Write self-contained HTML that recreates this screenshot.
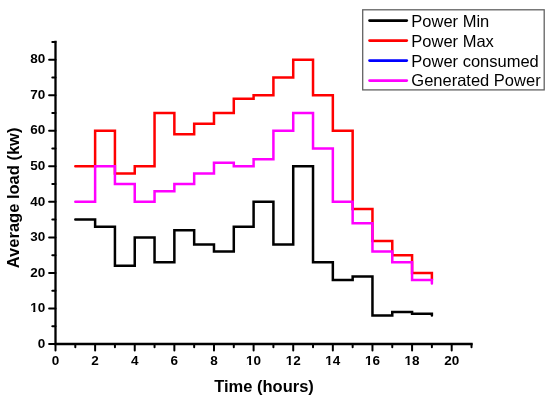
<!DOCTYPE html>
<html><head><meta charset="utf-8"><style>
html,body{margin:0;padding:0;background:#fff;}
body{width:550px;height:402px;overflow:hidden;}
svg{display:block;}
text{font-family:"Liberation Sans",Arial,sans-serif;}
</style></head><body>
<svg width="550" height="402" viewBox="0 0 550 402">
<rect width="550" height="402" fill="#fff"/>
<g fill="none" stroke-width="2.5" stroke-linejoin="miter" stroke-linecap="round">
<path d="M75.31 219.61 H95.12 V226.72 H114.93 V265.81 H134.74 V237.38 H154.55 V262.26 H174.36 V230.27 H194.17 V244.49 H213.98 V251.60 H233.79 V226.72 H253.60 V201.84 H273.41 V244.49 H293.22 V166.30 H313.03 V262.26 H332.84 V280.03 H352.65 V276.47 H372.46 V315.57 H392.27 V312.01 H412.08 V313.79 H431.89 V315.57" stroke="#000" />
<path d="M75.31 166.30 H95.12 V130.76 H114.93 V173.41 H134.74 V166.30 H154.55 V112.99 H174.36 V134.31 H194.17 V123.65 H213.98 V112.99 H233.79 V98.77 H253.60 V95.22 H273.41 V77.45 H293.22 V59.68 H313.03 V95.22 H332.84 V130.76 H352.65 V208.95 H372.46 V240.93 H392.27 V255.15 H412.08 V272.92 H431.89 V280.03" stroke="#f00" />
<path d="M75.31 201.84 H95.12 V166.30 H114.93 V184.07 H134.74 V201.84 H154.55 V191.18 H174.36 V184.07 H194.17 V173.41 H213.98 V162.75 H233.79 V166.30 H253.60 V159.19 H273.41 V130.76 H293.22 V112.99 H313.03 V148.53 H332.84 V201.84 H352.65 V223.16 H372.46 V251.60 H392.27 V262.26 H412.08 V280.03 H431.89 V283.58" stroke="#f0f" />
</g>
<path d="M49.10 344.00 h6.40 M52.30 326.23 h3.20 M49.10 308.46 h6.40 M52.30 290.69 h3.20 M49.10 272.92 h6.40 M52.30 255.15 h3.20 M49.10 237.38 h6.40 M52.30 219.61 h3.20 M49.10 201.84 h6.40 M52.30 184.07 h3.20 M49.10 166.30 h6.40 M52.30 148.53 h3.20 M49.10 130.76 h6.40 M52.30 112.99 h3.20 M49.10 95.22 h6.40 M52.30 77.45 h3.20 M49.10 59.68 h6.40 M52.30 41.91 h3.20 M55.50 344.00 v6.40 M75.31 344.00 v3.20 M95.12 344.00 v6.40 M114.93 344.00 v3.20 M134.74 344.00 v6.40 M154.55 344.00 v3.20 M174.36 344.00 v6.40 M194.17 344.00 v3.20 M213.98 344.00 v6.40 M233.79 344.00 v3.20 M253.60 344.00 v6.40 M273.41 344.00 v3.20 M293.22 344.00 v6.40 M313.03 344.00 v3.20 M332.84 344.00 v6.40 M352.65 344.00 v3.20 M372.46 344.00 v6.40 M392.27 344.00 v3.20 M412.08 344.00 v6.40 M431.89 344.00 v3.20 M451.70 344.00 v6.40 M471.51 344.00 v3.20" stroke="#000" stroke-width="2.00" fill="none" stroke-linecap="round"/><path d="M55.50 41.91 V344.00 M55.50 344.00 H471.51" stroke="#000" stroke-width="2.30" fill="none" stroke-linecap="square"/>
<g font-weight="bold" font-size="13.5" fill="#000">
<text x="45.2" y="347.70" text-anchor="end">0</text>
<text x="45.2" y="312.16" text-anchor="end">10</text>
<text x="45.2" y="276.62" text-anchor="end">20</text>
<text x="45.2" y="241.08" text-anchor="end">30</text>
<text x="45.2" y="205.54" text-anchor="end">40</text>
<text x="45.2" y="170.00" text-anchor="end">50</text>
<text x="45.2" y="134.46" text-anchor="end">60</text>
<text x="45.2" y="98.92" text-anchor="end">70</text>
<text x="45.2" y="63.38" text-anchor="end">80</text>
<text x="55.50" y="364.9" text-anchor="middle">0</text>
<text x="95.12" y="364.9" text-anchor="middle">2</text>
<text x="134.74" y="364.9" text-anchor="middle">4</text>
<text x="174.36" y="364.9" text-anchor="middle">6</text>
<text x="213.98" y="364.9" text-anchor="middle">8</text>
<text x="253.60" y="364.9" text-anchor="middle">10</text>
<text x="293.22" y="364.9" text-anchor="middle">12</text>
<text x="332.84" y="364.9" text-anchor="middle">14</text>
<text x="372.46" y="364.9" text-anchor="middle">16</text>
<text x="412.08" y="364.9" text-anchor="middle">18</text>
<text x="451.70" y="364.9" text-anchor="middle">20</text>
</g>
<g fill="#fff"><rect x="246.34" y="363.07" width="2.75" height="2.58"/><rect x="251.25" y="363.07" width="2.73" height="2.58"/><rect x="285.96" y="363.07" width="2.75" height="2.58"/><rect x="290.87" y="363.07" width="2.73" height="2.58"/><rect x="325.58" y="363.07" width="2.75" height="2.58"/><rect x="330.49" y="363.07" width="2.73" height="2.58"/><rect x="365.20" y="363.07" width="2.75" height="2.58"/><rect x="370.11" y="363.07" width="2.73" height="2.58"/><rect x="404.82" y="363.07" width="2.75" height="2.58"/><rect x="409.73" y="363.07" width="2.73" height="2.58"/><rect x="30.43" y="310.33" width="2.75" height="2.58"/><rect x="35.34" y="310.33" width="2.73" height="2.58"/></g>
<text x="264" y="391.8" text-anchor="middle" font-weight="bold" font-size="16.5">Time (hours)</text>
<text transform="translate(19.4 197.9) rotate(-90)" text-anchor="middle" font-weight="bold" font-size="16.5">Average load (kw)</text>
<g>
<rect x="362.7" y="9.8" width="181.5" height="80.1" fill="#fff" stroke="#626262" stroke-width="1.3"/>
<g stroke-width="2.6" stroke-linecap="round">
<line x1="369.5" y1="20.6" x2="406.8" y2="20.6" stroke="#000"/>
<line x1="369.5" y1="40.6" x2="406.8" y2="40.6" stroke="#f00"/>
<line x1="369.5" y1="60.6" x2="406.8" y2="60.6" stroke="#00f"/>
<line x1="369.5" y1="80.6" x2="406.8" y2="80.6" stroke="#f0f"/>
</g>
<g font-size="16.5" fill="#000">
<text x="411.3" y="26.7">Power Min</text>
<text x="411.3" y="46.9">Power Max</text>
<text x="411.3" y="66.6">Power consumed</text>
<text x="411.3" y="86.2">Generated Power</text>
</g>
</g>
</svg>
</body></html>
